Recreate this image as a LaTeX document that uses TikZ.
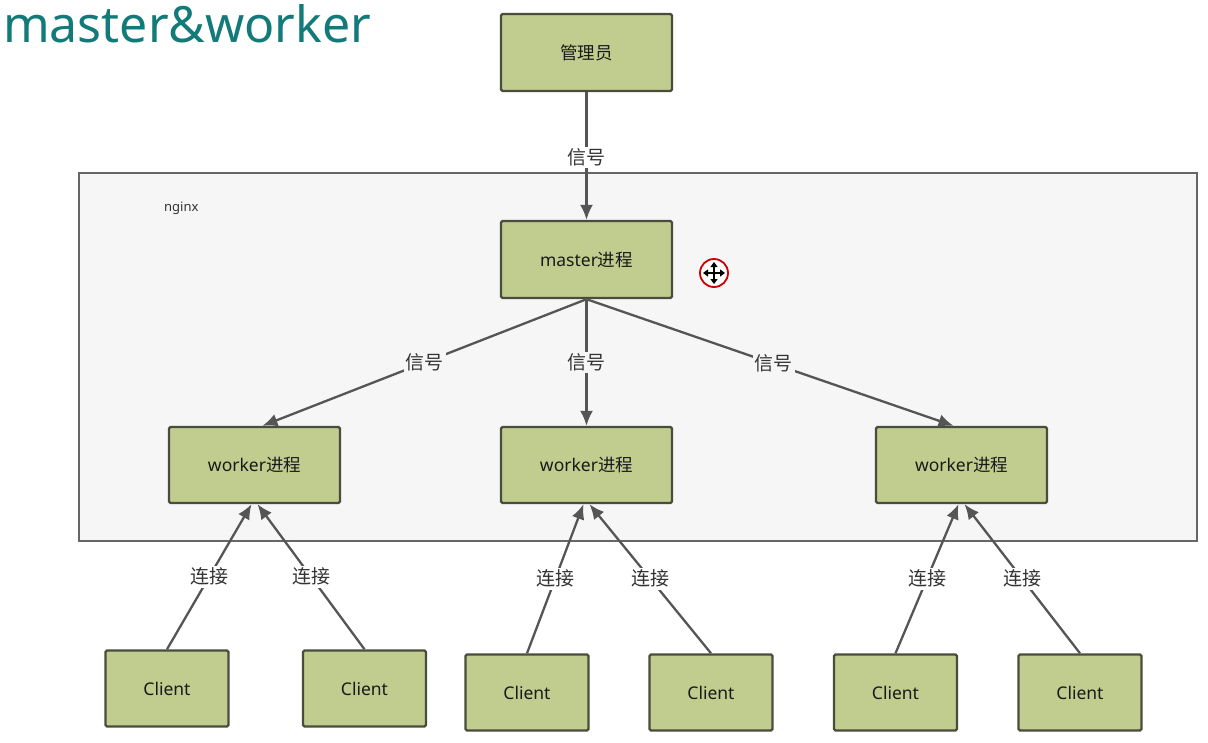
\documentclass[tikz,border=0pt]{standalone}
\usepackage{fontspec}
\setmainfont{Noto Sans}
\newfontfamily\cjk{Noto Sans CJK SC}
\usetikzlibrary{arrows.meta}
\definecolor{boxfill}{HTML}{C0CD8F}
\definecolor{boxline}{HTML}{4A4D3C}
\definecolor{contfill}{HTML}{F6F6F6}
\definecolor{contline}{HTML}{666666}
\definecolor{linecol}{HTML}{555555}
\definecolor{titlecol}{HTML}{137A7A}
\tikzset{
  gbox/.style={draw=boxline, fill=boxfill, line width=2.4pt, rounded corners=1.5pt,
    minimum width=171pt, minimum height=77pt, inner sep=0pt, font=\fontsize{17.5}{20}\selectfont, text=black!90},
  cbox/.style={gbox, minimum width=123pt, minimum height=76pt},
  arr/.style={draw=linecol, line width=2.3pt, -{Latex[length=15pt,width=13pt]}},
  lbl/.style={fill=white, inner sep=2pt, text=black!80, font=\cjk\fontsize{19}{21}\selectfont},
  lbli/.style={lbl, fill=contfill},
}
\begin{document}
\begin{tikzpicture}[x=1pt, y=-1pt]
\useasboundingbox (0,0) rectangle (1208,742);
\fill[white] (0,0) rectangle (1208,742);
% title
\node[anchor=base west, inner sep=0pt, text=titlecol, font=\fontsize{50}{56}\selectfont] (title) at (3,42) {master\&worker};
% container
\node[draw=contline, fill=contfill, line width=2.2pt, minimum width=1118pt, minimum height=368pt, inner sep=0pt] (nginx) at (638,357) {};
\node[anchor=west, inner sep=0pt, font=\fontsize{13}{15}\selectfont, text=black!80] (nlabel) at (164,208) {nginx};
% boxes
\node[gbox] (admin) at (586.5,52.5) {\cjk 管理员};
\node[gbox] (master) at (586.5,259.5) {master{\cjk 进程}};
\node[gbox, minimum height=76pt] (w1) at (254.5,465) {worker{\cjk 进程}};
\node[gbox, minimum height=76pt] (w2) at (586.5,465) {worker{\cjk 进程}};
\node[gbox, minimum height=76pt] (w3) at (961.5,465) {worker{\cjk 进程}};
\node[cbox] (c1) at (167,688.5) {Client};
\node[cbox] (c2) at (364.5,688.5) {Client};
\node[cbox] (c3) at (527,692.5) {Client};
\node[cbox] (c4) at (711,692.5) {Client};
\node[cbox] (c5) at (895.5,692.5) {Client};
\node[cbox] (c6) at (1080,692.5) {Client};
% arrows
\draw[arr] (admin.south) -- node[lbl, pos=0.51] {信号} (master.north);
\draw[arr] (master.south) -- node[lbli, pos=0.5] {信号} ([xshift=8pt]w1.north);
\draw[arr] (master.south) -- node[lbli, pos=0.5] {信号} (w2.north);
\draw[arr] (master.south) -- node[lbli, pos=0.51] {信号} ([xshift=-8pt]w3.north);
\draw[arr] (c1.north) -- node[lbl, pos=0.5] {连接} ([xshift=-3pt]w1.south);
\draw[arr] (c2.north) -- node[lbl, pos=0.5] {连接} ([xshift=3pt]w1.south);
\draw[arr] (c3.north) -- node[lbl, pos=0.5] {连接} ([xshift=-3pt]w2.south);
\draw[arr] (c4.north) -- node[lbl, pos=0.5] {连接} ([xshift=3pt]w2.south);
\draw[arr] (c5.north) -- node[lbl, pos=0.5] {连接} ([xshift=-3pt]w3.south);
\draw[arr] (c6.north) -- node[lbl, pos=0.5] {连接} ([xshift=3pt]w3.south);
% move cursor icon
\coordinate (icon) at (714,273);
\draw[red!80!black, line width=1.8pt, fill=white] (icon) circle (14pt);
\draw[black, line width=1.8pt, {Triangle[length=5pt,width=7pt]}-{Triangle[length=5pt,width=7pt]}] ([xshift=-11pt]icon) -- ([xshift=11pt]icon);
\draw[black, line width=1.8pt, {Triangle[length=5pt,width=7pt]}-{Triangle[length=5pt,width=7pt]}] ([yshift=-11pt]icon) -- ([yshift=11pt]icon);
\end{tikzpicture}
\end{document}
